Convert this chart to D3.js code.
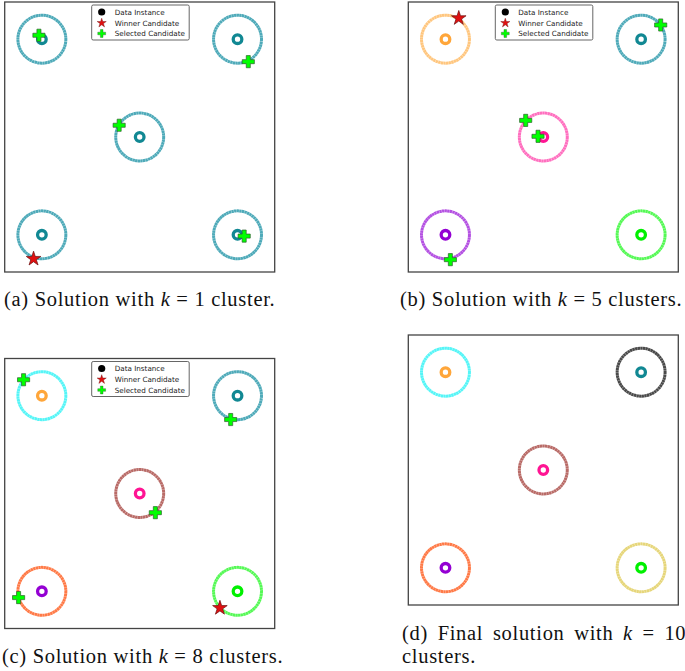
<!DOCTYPE html>
<html>
<head>
<meta charset="utf-8">
<script src="https://cdn.jsdelivr.net/npm/d3@7"></script>
<style>
  body { margin: 0; background: #fff; }
  svg { display: block; }
</style>
</head>
<body>
<div id="chart"></div>
<script>
// cluster centres (data units), the same in every panel
var clusterX = [-1, 1, 0, -1, 1];
var clusterY = [1, 1, 0, -1, -1];
var ringRadius = 0.245;
var coreRadius = 0.044;

// ring colours per panel (outer ring of instances / inner core)
var outerA = ["#4eaab9", "#4eaab9", "#4eaab9", "#4eaab9", "#4eaab9"];
var innerA = ["#118893", "#118893", "#118893", "#118893", "#118893"];
var outerB = ["#ffc67e", "#4eaab9", "#ff6fbf", "#b451e2", "#55f955"];
var innerB = ["#ffa63a", "#118893", "#ff1493", "#9400d3", "#00f000"];
var outerC = ["#55f5f7", "#4eaab9", "#b96b67", "#ff7a47", "#55f955"];
var innerC = ["#ffa63a", "#118893", "#ff1493", "#9400d3", "#00f000"];
var outerD = ["#55f5f7", "#4a4a4a", "#b96b67", "#ff7a47", "#e6d67a"];
var innerD = ["#ffa63a", "#118893", "#ff1493", "#9400d3", "#00f000"];

// candidates: x, y, kind
var candA = [[-1.03, 1.04, "plus"], [1.11, 0.77, "plus"], [-0.21, 0.12, "plus"],
             [-1.085, -1.245, "star"], [1.068, -1.013, "plus"]];
var candB = [[-0.864, 1.215, "star"], [1.2, 1.145, "plus"], [-0.18, 0.17, "plus"],
             [-0.054, 0.007, "plus"], [-0.95, -1.254, "plus"]];
var candC = [[-1.187, 1.163, "plus"], [0.93, 0.756, "plus"], [0.16, -0.196, "plus"],
             [-1.238, -1.064, "plus"], [0.82, -1.17, "star"]];
var candD = [];

var legendLabels = ["Data Instance", "Winner Candidate", "Selected Candidate"];

var panels = [
  { x: 4.7, y: 2, outer: outerA, inner: innerA, cand: candA, legend: 87, cap: ["(a) Solution with ", "k", " = 1 cluster."], capX: 4, capY: 306, ws: 0 },
  { x: 408.3, y: 2, outer: outerB, inner: innerB, cand: candB, legend: 87, cap: ["(b) Solution with ", "k", " = 5 clusters."], capX: 400, capY: 306, ws: 0 },
  { x: 4.7, y: 358.5, outer: outerC, inner: innerC, cand: candC, legend: 87, cap: ["(c) Solution with ", "k", " = 8 clusters."], capX: 2, capY: 663, ws: 0 },
  { x: 408.3, y: 335, outer: outerD, inner: innerD, cand: candD, legend: null, cap: ["(d) Final solution with ", "k", " = 10"], capX: 402, capY: 640, ws: 3.8, cap2: "clusters." }
];

var size = 270;
var svg = d3.select("#chart").append("svg")
  .attr("width", 685).attr("height", 671);
svg.append("rect").attr("width", 685).attr("height", 671).attr("fill", "#fff");

var x = d3.scaleLinear().domain([-1.38, 1.38]).range([0, size]);
var y = d3.scaleLinear().domain([-1.38, 1.38]).range([size, 0]);
var unit = x(1) - x(0);

var star = d3.symbol().type(d3.symbolStar).size(66);
var plus = d3.symbol().type(d3.symbolCross).size(82);

panels.forEach(function(p) {
  var g = svg.append("g").attr("transform", `translate(${p.x},${p.y})`);

  g.append("rect")
    .attr("width", size).attr("height", size)
    .attr("fill", "#fff").attr("stroke", "#444").attr("stroke-width", 1.3);

  g.selectAll(".ring").data(clusterX).enter()
    .append("circle")
    .attr("cx", (d, i) => x(clusterX[i]))
    .attr("cy", (d, i) => y(clusterY[i]))
    .attr("r", ringRadius * unit)
    .attr("fill", "none")
    .attr("stroke", (d, i) => p.outer[i])
    .attr("stroke-width", 3)
    .attr("stroke-dasharray", "2.4 0.25");

  g.selectAll(".core").data(clusterX).enter()
    .append("circle")
    .attr("cx", (d, i) => x(clusterX[i]))
    .attr("cy", (d, i) => y(clusterY[i]))
    .attr("r", coreRadius * unit)
    .attr("fill", "none")
    .attr("stroke", (d, i) => p.inner[i])
    .attr("stroke-width", 3.3);

  g.selectAll(".cand").data(p.cand).enter()
    .append("path")
    .attr("d", d => d[2] == "star" ? star() : plus())
    .attr("transform", d => `translate(${x(d[0])},${y(d[1])})`)
    .attr("fill", d => d[2] == "star" ? "#e01010" : "#00ff00")
    .attr("stroke", d => d[2] == "star" ? "#6a1010" : "#2e5e2e")
    .attr("stroke-width", 0.7);

  if (p.legend != null) {
    var lg = g.append("g").attr("transform", `translate(${p.legend},3)`);
    lg.append("rect")
      .attr("width", 97.5).attr("height", 35)
      .attr("rx", 1.5)
      .attr("fill", "#fff").attr("stroke", "#555").attr("stroke-width", 0.9);
    lg.append("circle").attr("cx", 10).attr("cy", 7).attr("r", 3.6).attr("fill", "#000");
    lg.append("path").attr("d", d3.symbol().type(d3.symbolStar).size(26)())
      .attr("transform", "translate(10,18)").attr("fill", "#e01010")
      .attr("stroke", "#6a1010").attr("stroke-width", 0.4);
    lg.append("path").attr("d", d3.symbol().type(d3.symbolCross).size(34)())
      .attr("transform", "translate(10,28.5)").attr("fill", "#00ff00")
      .attr("stroke", "#2e5e2e").attr("stroke-width", 0.4);
    lg.selectAll(".lt").data(legendLabels).enter()
      .append("text")
      .attr("x", 23)
      .attr("y", (d, i) => 9.8 + i * 10.7)
      .attr("font-family", "DejaVu Sans")
      .attr("font-size", 7.2)
      .attr("fill", "#222")
      .text(d => d);
  }

  var cap = svg.append("text")
    .attr("x", p.capX).attr("y", p.capY)
    .attr("font-family", "Liberation Serif")
    .attr("font-size", 20.5)
    .attr("letter-spacing", 0.7)
    .attr("word-spacing", p.ws)
    .attr("fill", "#111");
  cap.append("tspan").text(p.cap[0]);
  cap.append("tspan").attr("font-style", "italic").text(p.cap[1]);
  cap.append("tspan").text(p.cap[2]);
  if (p.cap2) {
    svg.append("text")
      .attr("x", p.capX).attr("y", p.capY + 23)
      .attr("font-family", "Liberation Serif")
      .attr("font-size", 20.5)
      .attr("letter-spacing", 0.7)
      .attr("fill", "#111")
      .text(p.cap2);
  }
});
</script>
</body>
</html>
